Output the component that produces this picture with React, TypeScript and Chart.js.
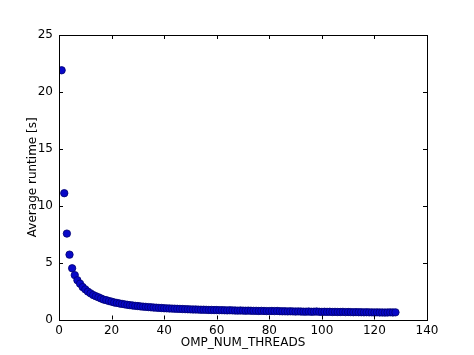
import React, { useEffect, useRef } from "react";
import { Chart, registerables } from "chart.js";

Chart.register(...registerables);

const threads: number[] = Array.from({ length: 128 }, (_, i) => i + 1);

const runtime: number[] = [
  21.9, 11.1, 7.55, 5.7, 4.5, 3.9, 3.45, 3.15, 2.85, 2.65,
  2.45, 2.3, 2.15, 2.05, 1.95, 1.85, 1.75, 1.7, 1.62, 1.57,
  1.5, 1.46, 1.41, 1.37, 1.33, 1.29, 1.26, 1.23, 1.2, 1.18,
  1.15, 1.13, 1.11, 1.09, 1.07, 1.05, 1.04, 1.02, 1.01, 0.99,
  0.98, 0.97, 0.96, 0.95, 0.94, 0.93, 0.92, 0.91, 0.9, 0.89,
  0.88, 0.88, 0.87, 0.86, 0.86, 0.85, 0.84, 0.84, 0.83, 0.83,
  0.82, 0.82, 0.81, 0.8, 0.81, 0.8, 0.79, 0.78, 0.79, 0.78,
  0.77, 0.78, 0.77, 0.76, 0.76, 0.75, 0.76, 0.75, 0.74, 0.74,
  0.75, 0.74, 0.75, 0.73, 0.72, 0.72, 0.71, 0.72, 0.71, 0.7,
  0.71, 0.7, 0.69, 0.69, 0.7, 0.68, 0.69, 0.7, 0.68, 0.67,
  0.68, 0.67, 0.68, 0.66, 0.67, 0.66, 0.66, 0.67, 0.65, 0.66,
  0.65, 0.64, 0.65, 0.64, 0.64, 0.63, 0.64, 0.63, 0.63, 0.62,
  0.63, 0.62, 0.62, 0.61, 0.62, 0.63, 0.62, 0.63,
];

const xTicks: number[] = [0, 20, 40, 60, 80, 100, 120, 140];
const yTicks: number[] = [0, 5, 10, 15, 20, 25];

const xTitle = "OMP_NUM_THREADS";
const yTitle = "Average runtime [s]";

const FONT = "'DejaVu Sans', sans-serif";

const frameTicks = {
  id: "frameTicks",
  afterDraw(chart: any) {
    const { ctx, chartArea } = chart;
    const { left, right, top, bottom } = chartArea;
    const xs = chart.scales.x;
    const ys = chart.scales.y;
    ctx.save();
    ctx.strokeStyle = "#000";
    ctx.lineWidth = 1;
    ctx.strokeRect(Math.round(left) + 0.5, Math.round(top) + 0.5, Math.round(right - left), Math.round(bottom - top));
    const L = 4;
    ctx.beginPath();
    for (const v of xTicks) {
      const px = Math.round(xs.getPixelForValue(v)) + 0.5;
      ctx.moveTo(px, bottom);
      ctx.lineTo(px, bottom - L);
      ctx.moveTo(px, top);
      ctx.lineTo(px, top + L);
    }
    for (const v of yTicks) {
      const py = Math.round(ys.getPixelForValue(v)) + 0.5;
      ctx.moveTo(left, py);
      ctx.lineTo(left + L, py);
      ctx.moveTo(right, py);
      ctx.lineTo(right - L, py);
    }
    ctx.stroke();
    ctx.restore();
  },
};

export default function App() {
  const ref = useRef<HTMLCanvasElement | null>(null);

  useEffect(() => {
    document.body.style.margin = "0";
    const canvas = ref.current;
    if (!canvas) return;
    const chart = new Chart(canvas, {
      type: "scatter",
      data: {
        datasets: [
          {
            data: threads.map((t, i) => ({ x: t, y: runtime[i] })),
            backgroundColor: "#0808c8",
            borderColor: "#000070",
            borderWidth: 0.8,
            pointRadius: 3.7,
            pointHoverRadius: 3.7,
          },
        ],
      },
      options: {
        animation: false,
        responsive: false,
        devicePixelRatio: 1,
        layout: { padding: { left: 26, right: 47, top: 35, bottom: 0 } },
        plugins: { legend: { display: false }, tooltip: { enabled: false } },
        scales: {
          x: {
            type: "linear",
            min: 0,
            max: 140,
            afterBuildTicks: (s: any) => {
              s.ticks = xTicks.map((v) => ({ value: v }));
            },
            afterFit: (s: any) => {
              s.height = 35.5;
            },
            grid: { display: false, drawTicks: false },
            border: { display: false },
            ticks: { color: "#000", font: { family: FONT, size: 12 }, padding: 4 },
            title: {
              display: true,
              text: xTitle,
              color: "#000",
              font: { family: FONT, size: 12 },
              padding: { top: 0, bottom: 5 },
            },
          },
          y: {
            type: "linear",
            min: 0,
            max: 25,
            afterBuildTicks: (s: any) => {
              s.ticks = yTicks.map((v) => ({ value: v }));
            },
            afterFit: (s: any) => {
              s.width = 33;
            },
            grid: { display: false, drawTicks: false },
            border: { display: false },
            ticks: { color: "#000", font: { family: FONT, size: 12 }, padding: 6 },
            title: {
              display: true,
              text: yTitle,
              color: "#000",
              font: { family: FONT, size: 12 },
              padding: { top: 0, bottom: 0 },
            },
          },
        },
      },
      plugins: [frameTicks],
    } as any);
    return () => chart.destroy();
  }, []);

  return (
    <canvas
      ref={ref}
      width={474}
      height={355}
      style={{ display: "block", width: 474, height: 355 }}
    />
  );
}
